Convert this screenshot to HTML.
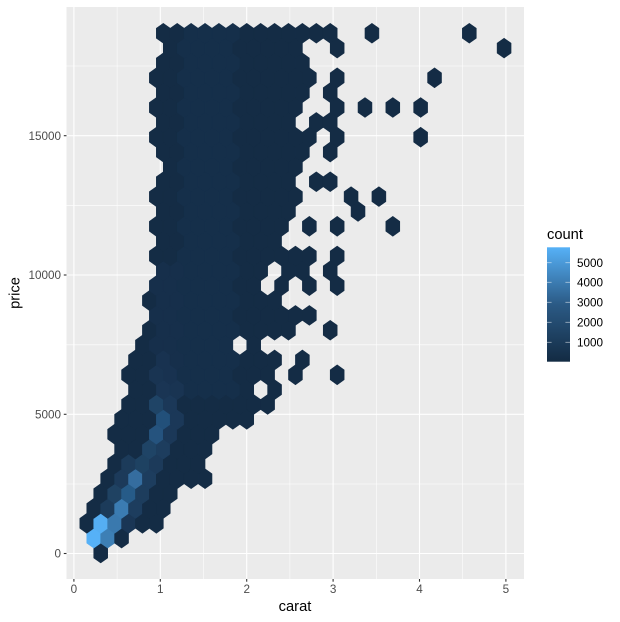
<!DOCTYPE html>
<html><head><meta charset="utf-8"><style>
html,body{margin:0;padding:0;background:#fff;}
svg{display:block;font-family:"Liberation Sans",sans-serif;}
</style></head><body>
<svg id="s" width="620" height="622" viewBox="0 0 620 622" xmlns="http://www.w3.org/2000/svg">
<rect x="0" y="0" width="620" height="622" fill="#fff"/>
<rect x="66.5" y="7" width="457.5" height="572" fill="#EBEBEB"/>
<g stroke="#fff" stroke-width="0.55">
<line x1="66.5" x2="524" y1="484" y2="484"/><line x1="66.5" x2="524" y1="344.8" y2="344.8"/>
<line x1="66.5" x2="524" y1="205.3" y2="205.3"/><line x1="66.5" x2="524" y1="66" y2="66"/>
<line y1="7" y2="579" x1="117.1" x2="117.1"/><line y1="7" y2="579" x1="203.5" x2="203.5"/>
<line y1="7" y2="579" x1="289.9" x2="289.9"/><line y1="7" y2="579" x1="376.3" x2="376.3"/>
<line y1="7" y2="579" x1="462.7" x2="462.7"/>
</g>
<g stroke="#fff" stroke-width="1.1">
<line x1="66.5" x2="524" y1="553.5" y2="553.5"/><line x1="66.5" x2="524" y1="414.3" y2="414.3"/>
<line x1="66.5" x2="524" y1="275" y2="275"/><line x1="66.5" x2="524" y1="135.7" y2="135.7"/>
<line y1="7" y2="579" x1="73.9" x2="73.9"/><line y1="7" y2="579" x1="160.3" x2="160.3"/>
<line y1="7" y2="579" x1="246.7" x2="246.7"/><line y1="7" y2="579" x1="333.1" x2="333.1"/>
<line y1="7" y2="579" x1="419.5" x2="419.5"/><line y1="7" y2="579" x1="505.9" x2="505.9"/>
</g>
<g id="hex"></g>
<g stroke="#333" stroke-width="1.1">
<line x1="63.8" x2="66.5" y1="553.5" y2="553.5"/><line x1="63.8" x2="66.5" y1="414.3" y2="414.3"/>
<line x1="63.8" x2="66.5" y1="275" y2="275"/><line x1="63.8" x2="66.5" y1="135.7" y2="135.7"/>
<line y1="579" y2="581.7" x1="73.9" x2="73.9"/><line y1="579" y2="581.7" x1="160.3" x2="160.3"/>
<line y1="579" y2="581.7" x1="246.7" x2="246.7"/><line y1="579" y2="581.7" x1="333.1" x2="333.1"/>
<line y1="579" y2="581.7" x1="419.5" x2="419.5"/><line y1="579" y2="581.7" x1="505.9" x2="505.9"/>
</g>
<g fill="#4D4D4D" font-size="11.7" text-anchor="end">
<text x="61" y="557.7">0</text><text x="61" y="418.5">5000</text>
<text x="61" y="279.2">10000</text><text x="61" y="139.9">15000</text>
</g>
<g fill="#4D4D4D" font-size="11.7" text-anchor="middle">
<text x="73.9" y="593">0</text><text x="160.3" y="593">1</text><text x="246.7" y="593">2</text>
<text x="333.1" y="593">3</text><text x="419.5" y="593">4</text><text x="505.9" y="593">5</text>
</g>
<text x="295" y="611" font-size="14.7" text-anchor="middle" fill="#000">carat</text>
<text transform="translate(19.5,293) rotate(-90)" font-size="14.7" text-anchor="middle" fill="#000">price</text>
<text x="547" y="239" font-size="14.7" fill="#000">count</text>
<defs><linearGradient id="lg" x1="0" y1="1" x2="0" y2="0">
<stop offset="0" stop-color="#132B43"/><stop offset="0.5" stop-color="#2B5A85"/><stop offset="1" stop-color="#56B1F7"/>
</linearGradient></defs>
<rect x="547" y="247.3" width="23" height="114.4" fill="url(#lg)"/>
<g stroke="#fff" stroke-opacity="0.6" stroke-width="0.8">
<line x1="547" x2="551.6" y1="342.3" y2="342.3"/><line x1="565.4" x2="570" y1="342.3" y2="342.3"/>
<line x1="547" x2="551.6" y1="322.3" y2="322.3"/><line x1="565.4" x2="570" y1="322.3" y2="322.3"/>
<line x1="547" x2="551.6" y1="302.3" y2="302.3"/><line x1="565.4" x2="570" y1="302.3" y2="302.3"/>
<line x1="547" x2="551.6" y1="282.3" y2="282.3"/><line x1="565.4" x2="570" y1="282.3" y2="282.3"/>
<line x1="547" x2="551.6" y1="262.7" y2="262.7"/><line x1="565.4" x2="570" y1="262.7" y2="262.7"/>
</g>
<g fill="#000" font-size="11.7">
<text x="577" y="346.5">1000</text><text x="577" y="326.5">2000</text><text x="577" y="306.5">3000</text>
<text x="577" y="286.5">4000</text><text x="577" y="266.9">5000</text>
</g>
</svg>
<script>
var rows={
0:[[0,0]],1:[[-1,1]],2:[[-1,4]],3:[[-1,4]],4:[[0,5]],5:[[0,7]],6:[[1,7]],7:[[1,7]],8:[[1,8]],
9:[[1,10]],10:[[2,12]],11:[[2,10],[12,12]],12:[[2,12],[14,14],[17,17]],13:[[2,12],[14,14]],
14:[[3,9],[11,11]],15:[[3,13],[16,16]],16:[[4,15]],17:[[3,12]],18:[[4,11],[13,13],[15,15],[17,17]],
19:[[4,11],[13,14],[16,16]],20:[[4,15],[17,17]],21:[[4,12]],22:[[4,13],[15,15],[17,17],[21,21]],
23:[[4,13],[18,18]],24:[[4,14],[18,18],[20,20]],25:[[4,13],[15,16]],26:[[5,14]],27:[[4,14],[16,16]],
28:[[4,15],[17,17],[23,23]],29:[[4,13],[15,16]],30:[[4,14],[17,17],[19,19],[21,21],[23,23]],
31:[[4,14],[16,16]],32:[[4,15],[17,17],[24,24]],33:[[4,14]],34:[[5,14],[17,17],[29,29]],
35:[[4,16],[19,19],[26,26]]};
var col={"1,-1":"#56B1F7","1,0":"#3d7fb5","2,0":"#55AEF3","2,1":"#3a79ae","2,2":"#1a3655",
"3,0":"#1c3b5a","3,1":"#3b7cb2","3,2":"#1d3d5e","4,1":"#1f4262","4,2":"#265b88","4,3":"#1d3d5d",
"5,1":"#1c3a5a","5,2":"#356d9f","5,3":"#1d3d5e","6,2":"#1c3b5a","6,3":"#1e4262","6,4":"#1c3a5a",
"7,3":"#1f4466","7,4":"#1d3d5e","8,4":"#25537e","8,5":"#1b3858","9,4":"#22507a","9,5":"#1b3858",
"10,4":"#1f4466","10,5":"#1b3858","11,4":"#1a3554","11,5":"#193452","12,4":"#193452","12,5":"#183250",
"13,4":"#183250"};
var g=document.getElementById("hex"),out="";
var w=6.955,R=9.9;
for(var r in rows){r=+r;var cy=553-14.85*r;
rows[r].forEach(function(rg){for(var j=rg[0];j<=rg[1];j++){
var cx=100.7+13.91*j+(r%2?6.955:0);
var c=col[r+","+j];
if(!c){c=(r>10&&j>=6&&j<=9&&(rg[1]-rg[0])>3)?"#152F4A":"#142C45";if(r>10&&j>=4&&j<=5&&r<20)c="#162F4B";}
out+='<polygon fill="'+c+'" stroke="'+c+'" stroke-width="0.6" points="'+
cx.toFixed(2)+','+(cy-R).toFixed(2)+' '+(cx+w).toFixed(2)+','+(cy-R/2).toFixed(2)+' '+
(cx+w).toFixed(2)+','+(cy+R/2).toFixed(2)+' '+cx.toFixed(2)+','+(cy+R).toFixed(2)+' '+
(cx-w).toFixed(2)+','+(cy+R/2).toFixed(2)+' '+(cx-w).toFixed(2)+','+(cy-R/2).toFixed(2)+'"/>';
}});}
g.innerHTML=out;
</script>
</body></html>
